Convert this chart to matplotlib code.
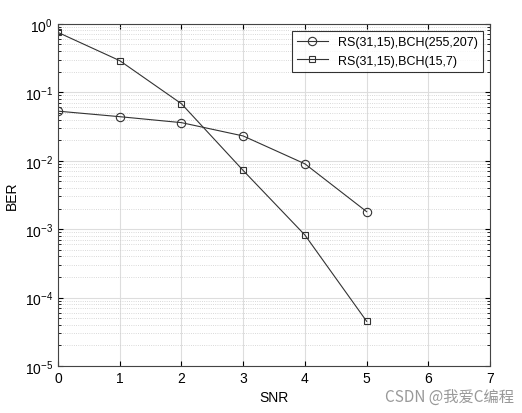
import matplotlib
matplotlib.use('Agg')
import matplotlib.pyplot as plt

snr = [0, 1, 2, 3, 4, 5]
ber_bch255 = [0.053, 0.044, 0.036, 0.023, 0.009, 0.0018]
ber_bch15 = [0.75, 0.29, 0.068, 0.0072, 0.00082, 4.5e-5]

plt.rcParams['font.family'] = ['Liberation Sans', 'DejaVu Sans']
plt.rcParams['font.size'] = 10

fig = plt.figure(figsize=(5.22, 4.14), dpi=100)
ax = fig.add_axes([0.111, 0.1135, 0.828, 0.8265])
ax.semilogy(snr, ber_bch255, '-o', color='#333333', lw=0.8, mfc='none', ms=6, mew=0.8,
            label='RS(31,15),BCH(255,207)')
ax.semilogy(snr, ber_bch15, '-s', color='#333333', lw=0.8, mfc='none', ms=5, mew=0.8,
            label='RS(31,15),BCH(15,7)')
ax.set_xlim(0, 7)
ax.set_ylim(1e-5, 1)
ax.set_xlabel('SNR')
ax.set_ylabel('BER')
ax.grid(True, which='major', color='#dddddd', lw=0.8)
ax.grid(True, which='minor', color='#cccccc', ls=':', lw=0.6)
ax.tick_params(which='both', direction='in', top=True, right=True)
for s in ax.spines.values():
    s.set_color('#444444')
leg = ax.legend(loc='upper right', fancybox=False, edgecolor='black', fontsize=9,
                borderaxespad=0.6, handlelength=2.5)
leg.get_frame().set_linewidth(0.8)
fig.text(0.985, 0.02, 'CSDN @我爱C编程', ha='right', va='bottom', fontsize=11,
         color='#999999', family=['Noto Sans CJK SC', 'DejaVu Sans'])
fig.savefig('out.png', dpi=100)
